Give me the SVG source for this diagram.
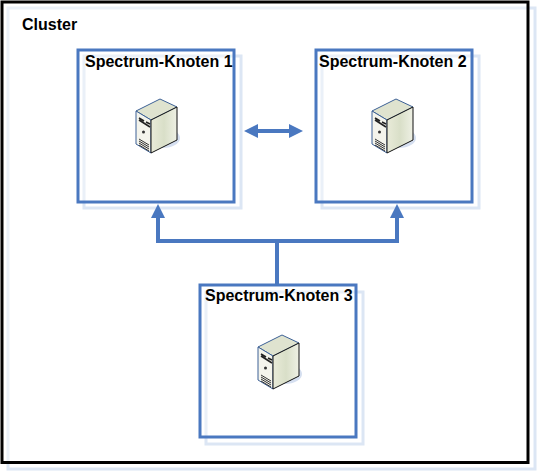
<svg xmlns="http://www.w3.org/2000/svg" width="537" height="471" viewBox="0 0 537 471">
<defs>
<marker id="ah" markerUnits="userSpaceOnUse" markerWidth="15" markerHeight="15" refX="1" refY="7.5" orient="auto-start-reverse"><path d="M0 0.5L14 7.5L0 14.5Z" fill="#4a78c0"/></marker>
<linearGradient id="side" x1="0" y1="0" x2="1" y2="0"><stop offset="0" stop-color="#e9ebd9"/><stop offset="0.5" stop-color="#d9dfc8"/><stop offset="1" stop-color="#eef0e4"/></linearGradient>
<g id="server">
<ellipse cx="27" cy="39" rx="17" ry="10" fill="#d5dff0"/>
<path d="M0 12L24 0L41 8L15 21Z" fill="#dfe3cf" stroke="#3d6196" stroke-width="1"/>
<path d="M0 12L15 21V54L0 45Z" fill="#f4f4ec" stroke="#3d6196" stroke-width="1"/>
<path d="M15 21L41 8V41L15 54Z" fill="url(#side)" stroke="#111" stroke-width="1"/>
<path d="M3 19L8 22M10 23L14 25M3 21L14 28" stroke="#222" stroke-width="1.6" fill="none"/>
<circle cx="7.500" cy="33" r="1.500" fill="#333"/>
<path d="M3 40L13 46M3 42L13 48M3 44L13 50M3 46L13 52" stroke="#333" stroke-width="1" fill="none"/>
</g>
</defs>
<style>
.shadow{fill:none;stroke:#dce6f4;stroke-width:3}
.box{fill:#fff;fill-opacity:.4;stroke:#4a78c0;stroke-width:3}
.label{font-family:"Liberation Sans",Arial,sans-serif;font-size:16px;font-weight:bold;fill:#000}
.conn{fill:none;stroke:#4a78c0;stroke-width:4}
</style>
<rect width="537" height="471" fill="#fff"/>
<g id="cluster">
<rect x="8" y="8" width="527" height="461" class="shadow"/>
<rect x="2" y="2" width="526" height="460.500" fill="#fff" fill-opacity=".4" stroke="#000" stroke-width="3"/>
<text x="22" y="30" class="label">Cluster</text>
</g>
<g id="node1">
<rect x="84" y="56" width="157" height="152" class="shadow"/>
<rect x="78" y="50" width="156" height="152" class="box"/>
<text x="85" y="67" class="label">Spectrum-Knoten 1</text>
<use href="#server" x="136" y="99"/>
</g>
<g id="node2">
<rect x="322" y="56" width="157" height="152" class="shadow"/>
<rect x="316" y="50" width="156" height="152" class="box"/>
<text x="319" y="67" class="label">Spectrum-Knoten 2</text>
<use href="#server" x="372" y="99"/>
</g>
<g id="node3">
<rect x="206" y="292" width="157" height="152" class="shadow"/>
<rect x="200" y="285" width="156" height="152" class="box"/>
<text x="205" y="301" class="label">Spectrum-Knoten 3</text>
<use href="#server" x="258" y="335"/>
</g>
<g id="connectors">
<path d="M277 285V241H158V217" class="conn" marker-end="url(#ah)"/>
<path d="M277 241H397V217" class="conn" marker-end="url(#ah)"/>
<path d="M257 131H290" class="conn" marker-start="url(#ah)" marker-end="url(#ah)"/>
</g>
</svg>
